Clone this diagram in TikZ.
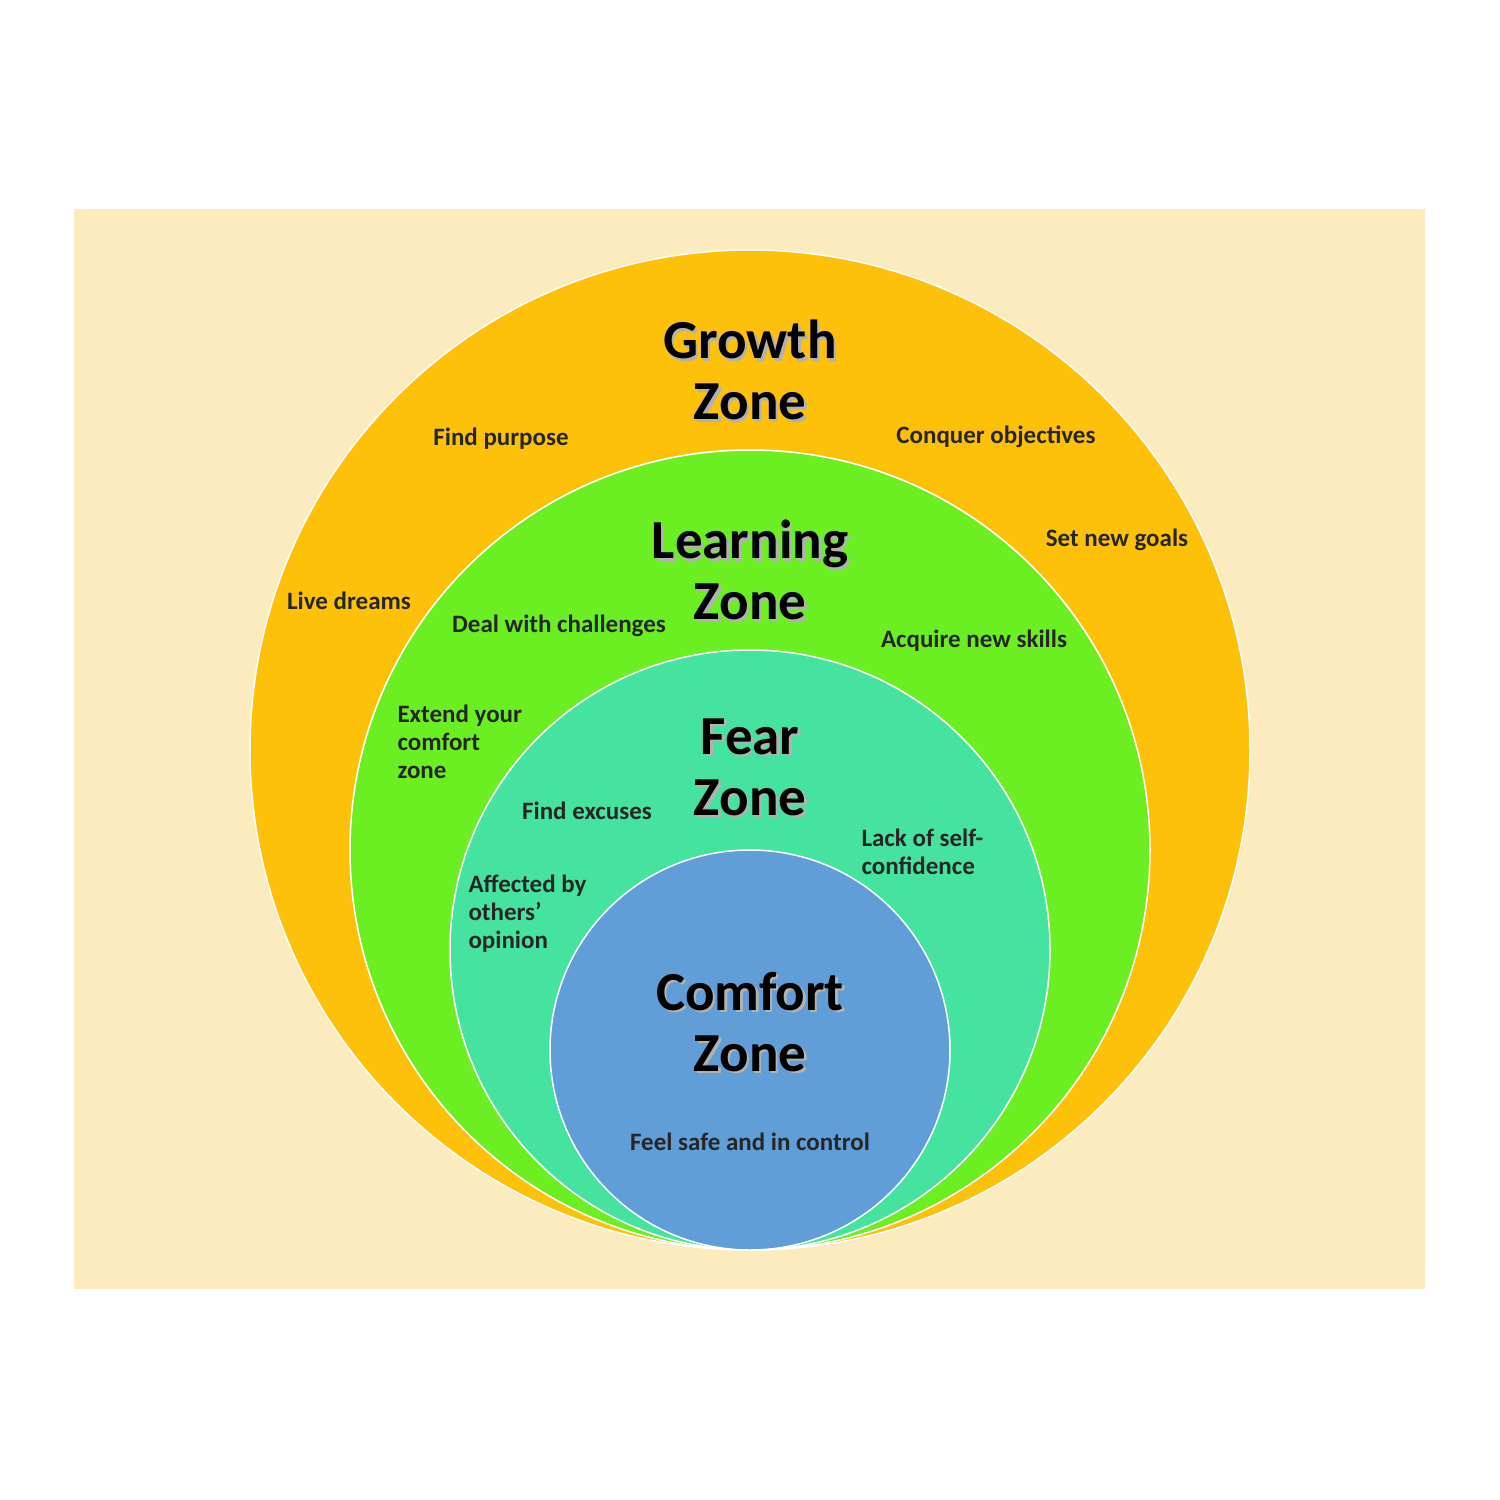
\documentclass[tikz,border=0pt]{standalone}
\usepackage{fontspec}
\setmainfont{Carlito}
\definecolor{bg}{HTML}{FDEBC0}
\definecolor{cg}{HTML}{FDC10A}
\definecolor{cl}{HTML}{6BEF22}
\definecolor{cf}{HTML}{46E3A0}
\definecolor{cc}{HTML}{619DD6}
\begin{document}
\begin{tikzpicture}[x=1pt,y=-1pt,
  zone/.style={draw=white,line width=1.5pt},
  ttl/.style={font=\fontsize{55}{61}\selectfont\bfseries,align=center,text=black},
  lbl/.style={font=\fontsize{25}{28}\selectfont\bfseries,align=left,text=black!85}]
\useasboundingbox (0,0) rectangle (1500,1500);
\fill[white] (0,0) rectangle (1500,1500);
\fill[bg] (74,209) rectangle (1425,1289);
\draw[zone,fill=cg] (750,750) circle (500);
\draw[zone,fill=cl] (750,850) circle (400);
\draw[zone,fill=cf] (750,950) circle (300);
\draw[zone,fill=cc] (750,1050) circle (200);
\foreach \n/\x/\y/\t in {g/750/370/{Growth\\Zone},l/750/570/{Learning\\Zone},f/750/767/{Fear\\Zone},c/750/1022/{Comfort\\Zone}}{
  \node[ttl,text=black!30,xshift=2.5pt,yshift=-2.5pt] at (\x,\y) {\t};
  \node[ttl] (\n) at (\x,\y) {\t};}
\node[lbl] (a1) at (501,439) {Find purpose};
\node[lbl] (a2) at (996,437) {Conquer objectives};
\node[lbl] (a3) at (1117,540) {Set new goals};
\node[lbl] (a4) at (349,601) {Live dreams};
\node[lbl] (a5) at (559,626) {Deal with challenges};
\node[lbl] (a6) at (974,641) {Acquire new skills};
\node[lbl,anchor=north west] (a7) at (394,701) {Extend your\\comfort\\zone};
\node[lbl] (a8) at (587,811) {Find excuses};
\node[lbl,anchor=north west] (a9) at (858,825) {Lack of self-\\confidence};
\node[lbl,anchor=north west] (a10) at (465,871) {Affected by\\others’\\opinion};
\node[lbl] (a11) at (750,1142) {Feel safe and in control};
\end{tikzpicture}
\end{document}
